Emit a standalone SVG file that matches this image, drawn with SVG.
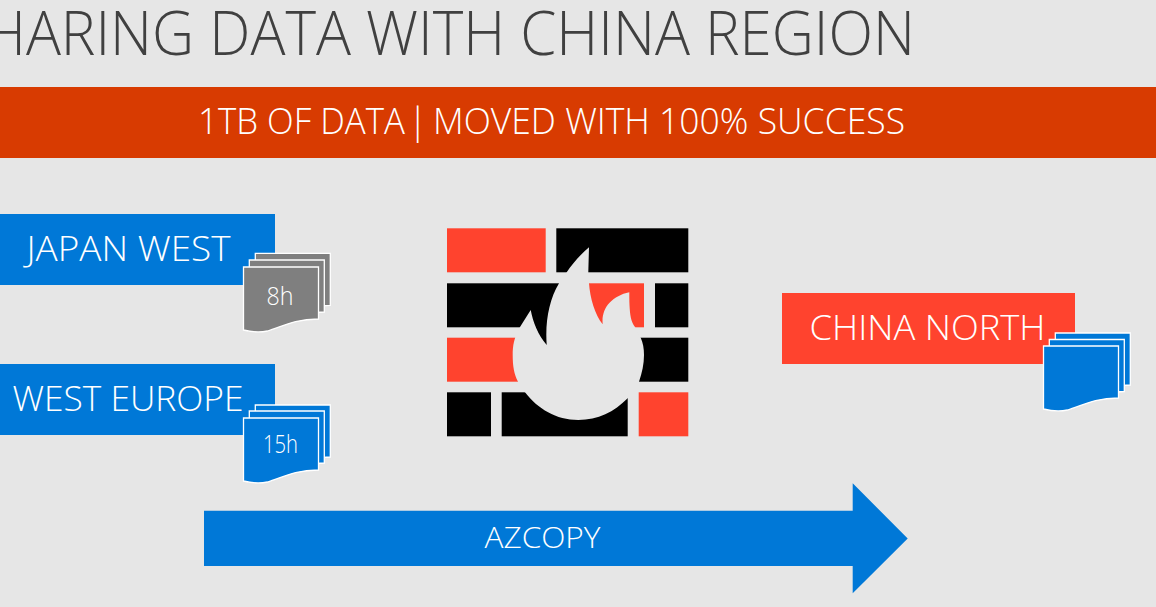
<svg xmlns="http://www.w3.org/2000/svg" width="1156" height="607" viewBox="0 0 1156 607">
<style>
text{font-family:"Open Sans","Noto Sans","Liberation Sans",sans-serif;font-weight:300;fill:#fff}
.blue{fill:#0078d7}.red{fill:#ff432e}.gray{fill:#7f7f7f}.blk{fill:#000}
.sheet{stroke:#fff;stroke-width:1.3}
.lbl{font-size:34px}
.n{font-size:25px}
</style>
<defs>
<path id="doc" d="M0 0H75V52C50 52 38 60 24 64C14 66 8 65 0 63Z"/>
</defs>
<rect width="1156" height="607" fill="#e6e6e6"/>
<text id="title" x="-16" y="55" font-size="60" textLength="931" lengthAdjust="spacingAndGlyphs" style="fill:#404040">HARING DATA WITH CHINA REGION</text>
<g id="banner"><rect y="87" width="1156" height="71" fill="#d83b01"/>
<text y="134" font-size="36"><tspan x="198" textLength="207" lengthAdjust="spacingAndGlyphs">1TB OF DATA</tspan> <tspan x="408">|</tspan> <tspan x="433" textLength="472" lengthAdjust="spacingAndGlyphs">MOVED WITH 100% SUCCESS</tspan></text></g>
<g id="japan-west"><rect y="214" width="275" height="71" class="blue"/>
<text class="lbl" x="128.500" y="261" text-anchor="middle" textLength="204" lengthAdjust="spacingAndGlyphs">JAPAN WEST</text></g>
<g id="japan-docs" class="gray">
<use href="#doc" x="255.300" y="253.300" class="sheet"/><use href="#doc" x="249.300" y="260" class="sheet"/><use href="#doc" x="243.500" y="267" class="sheet"/>
<text class="n" x="280" y="305" text-anchor="middle" textLength="27" lengthAdjust="spacingAndGlyphs">8h</text></g>
<g id="west-europe"><rect y="364" width="275" height="71" class="blue"/>
<text class="lbl" x="128" y="411" text-anchor="middle" textLength="231" lengthAdjust="spacingAndGlyphs">WEST EUROPE</text></g>
<g id="europe-docs" class="blue">
<use href="#doc" x="255.300" y="405" class="sheet"/><use href="#doc" x="249.300" y="411" class="sheet"/><use href="#doc" x="243.500" y="418" class="sheet"/>
<text class="n" x="280.500" y="452.500" text-anchor="middle" textLength="35" lengthAdjust="spacingAndGlyphs">15h</text></g>
<g id="firewall">
<rect x="447" y="228.300" width="98.700" height="44" class="red"/>
<rect x="556.300" y="228.300" width="132" height="44" class="blk"/>
<rect x="447" y="283.300" width="142" height="44" class="blk"/>
<rect x="589" y="283.300" width="55" height="44" class="red"/>
<rect x="655" y="283.300" width="33.300" height="44" class="blk"/>
<rect x="447" y="337.700" width="80" height="44" class="red"/>
<rect x="600" y="337.700" width="88.300" height="44" class="blk"/>
<rect x="447" y="392.300" width="44" height="44" class="blk"/>
<rect x="501.700" y="392.300" width="126" height="44" class="blk"/>
<rect x="638.700" y="392.300" width="49.600" height="44" class="red"/>
<rect x="530" y="320" width="20" height="27" class="blk"/>
<path fill="#e6e6e6" d="M589 247.300C580 255 572 264 566.700 272.300L559 283.300C549 300 545 322 546.700 345C538 335 533 322 530.700 310L520 327C514 337 512.700 346 512.700 355C512.700 366 514 374 518 381.700C522 389 525 392.300 525 392.300C538 409 556 420 578.300 420C598 420 614 412 627.700 398.300C633 393 636 388 639 381.700C642 373 644 364 644 355C644 348 643 343 640.700 337.700L635 327C631 322 630 315 629.500 305C629.300 300 629.300 296 629.300 292.300C612 296 601 308 602.700 324.300C595 315 590 298 589 283.300L588.300 272.300Z"/>
</g>
<g id="china-north"><rect x="782" y="293" width="293" height="71" class="red"/>
<text class="lbl" x="927.500" y="340" text-anchor="middle" textLength="236" lengthAdjust="spacingAndGlyphs">CHINA NORTH</text></g>
<g id="china-docs" class="blue">
<use href="#doc" x="1055.300" y="333" class="sheet"/><use href="#doc" x="1049.300" y="339.500" class="sheet"/><use href="#doc" x="1043.500" y="346" class="sheet"/></g>
<g id="connectors"><path id="azcopy-arrow" class="blue" d="M204 510.700H852.700V483.300L907.700 538.500L852.700 593.300V566H204Z"/></g>
<text id="azcopy" x="542.500" y="548" text-anchor="middle" style="font-size:30px" textLength="116" lengthAdjust="spacingAndGlyphs">AZCOPY</text>
</svg>
